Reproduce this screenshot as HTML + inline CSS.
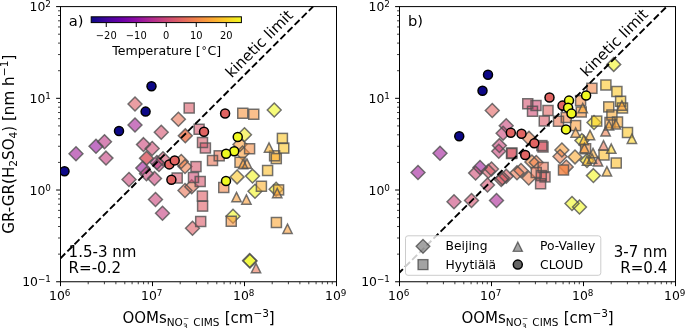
<!DOCTYPE html>
<html lang="en"><head><meta charset="utf-8"><title>GR vs OOMs</title>
<style>html,body{margin:0;padding:0;background:#fff}svg{display:block}</style></head>
<body>
<svg width="685" height="328" viewBox="0 0 685 328" font-family='"DejaVu Sans", "Liberation Sans", sans-serif' fill="#000">
<rect width="685" height="328" fill="#fff"/>
<defs>
<clipPath id="clipa"><rect x="60.5" y="6.6" width="276.0" height="275.15"/></clipPath>
<clipPath id="clipb"><rect x="399.5" y="6.6" width="276.0" height="275.15"/></clipPath>
<linearGradient id="plasma" x1="0" x2="1" y1="0" y2="0"><stop offset="0%" stop-color="#0d0887"/><stop offset="5%" stop-color="#270692"/><stop offset="10%" stop-color="#41049d"/><stop offset="15%" stop-color="#5602a2"/><stop offset="20%" stop-color="#6a00a8"/><stop offset="25%" stop-color="#7c06a6"/><stop offset="30%" stop-color="#8f0da4"/><stop offset="35%" stop-color="#a01c9a"/><stop offset="40%" stop-color="#b12a90"/><stop offset="45%" stop-color="#be3884"/><stop offset="50%" stop-color="#cc4778"/><stop offset="55%" stop-color="#d6566d"/><stop offset="60%" stop-color="#e16462"/><stop offset="65%" stop-color="#ea7456"/><stop offset="70%" stop-color="#f2844b"/><stop offset="75%" stop-color="#f79540"/><stop offset="80%" stop-color="#fca636"/><stop offset="85%" stop-color="#fcba2e"/><stop offset="90%" stop-color="#fcce25"/><stop offset="95%" stop-color="#f6e423"/><stop offset="100%" stop-color="#f0f921"/></linearGradient>
</defs>
<g clip-path="url(#clipa)">
<polygon points="135.00,97.07 141.93,104.00 135.00,110.93 128.07,104.00" fill="#dd5e66" fill-opacity="0.600"/>
<polygon points="135.00,118.07 141.93,125.00 135.00,131.93 128.07,125.00" fill="#a72196" fill-opacity="0.600"/>
<polygon points="161.25,125.32 168.18,132.25 161.25,139.18 154.32,132.25" fill="#d4536f" fill-opacity="0.600"/>
<polygon points="178.40,112.32 185.33,119.25 178.40,126.18 171.47,119.25" fill="#ea7456" fill-opacity="0.600"/>
<polygon points="185.30,128.87 192.23,135.80 185.30,142.73 178.37,135.80" fill="#ed7a52" fill-opacity="0.840"/>
<polygon points="76.00,146.82 82.93,153.75 76.00,160.68 69.07,153.75" fill="#a01c9a" fill-opacity="0.600"/>
<polygon points="96.00,139.32 102.93,146.25 96.00,153.18 89.07,146.25" fill="#99169e" fill-opacity="0.600"/>
<polygon points="104.50,134.82 111.43,141.75 104.50,148.68 97.57,141.75" fill="#bc3686" fill-opacity="0.600"/>
<polygon points="106.00,151.17 112.93,158.10 106.00,165.03 99.07,158.10" fill="#c43e7f" fill-opacity="0.600"/>
<polygon points="143.50,137.67 150.43,144.60 143.50,151.53 136.57,144.60" fill="#c9447a" fill-opacity="0.600"/>
<polygon points="152.20,141.57 159.13,148.50 152.20,155.43 145.27,148.50" fill="#d04d74" fill-opacity="0.600"/>
<polygon points="146.50,151.27 153.43,158.20 146.50,165.13 139.57,158.20" fill="#dd5e66" fill-opacity="0.840"/>
<polygon points="156.90,155.57 163.83,162.50 156.90,169.43 149.97,162.50" fill="#bc3686" fill-opacity="0.600"/>
<polygon points="159.00,157.57 165.93,164.50 159.00,171.43 152.07,164.50" fill="#c43e7f" fill-opacity="0.600"/>
<polygon points="163.00,151.82 169.93,158.75 163.00,165.68 156.07,158.75" fill="#d4536f" fill-opacity="0.600"/>
<polygon points="142.80,161.17 149.73,168.10 142.80,175.03 135.87,168.10" fill="#a01c9a" fill-opacity="0.600"/>
<polygon points="146.50,166.82 153.43,173.75 146.50,180.68 139.57,173.75" fill="#c9447a" fill-opacity="0.600"/>
<polygon points="154.50,171.57 161.43,178.50 154.50,185.43 147.57,178.50" fill="#c9447a" fill-opacity="0.600"/>
<polygon points="129.00,172.57 135.93,179.50 129.00,186.43 122.07,179.50" fill="#cc4778" fill-opacity="0.600"/>
<polygon points="155.50,192.57 162.43,199.50 155.50,206.43 148.57,199.50" fill="#c9447a" fill-opacity="0.600"/>
<polygon points="162.50,206.32 169.43,213.25 162.50,220.18 155.57,213.25" fill="#c43e7f" fill-opacity="0.600"/>
<polygon points="181.25,154.57 188.18,161.50 181.25,168.43 174.32,161.50" fill="#f38749" fill-opacity="0.600"/>
<polygon points="185.00,159.67 191.93,166.60 185.00,173.53 178.07,166.60" fill="#f0814d" fill-opacity="0.600"/>
<polygon points="185.00,183.57 191.93,190.50 185.00,197.43 178.07,190.50" fill="#ea7456" fill-opacity="0.600"/>
<polygon points="191.70,179.77 198.63,186.70 191.70,193.63 184.77,186.70" fill="#ea7456" fill-opacity="0.600"/>
<polygon points="192.50,221.32 199.43,228.25 192.50,235.18 185.57,228.25" fill="#dd5e66" fill-opacity="0.600"/>
<polygon points="274.25,103.07 281.18,110.00 274.25,116.93 267.32,110.00" fill="#f0f921" fill-opacity="0.600"/>
<polygon points="244.50,127.77 251.43,134.70 244.50,141.63 237.57,134.70" fill="#f4ec22" fill-opacity="0.600"/>
<polygon points="240.00,137.47 246.93,144.40 240.00,151.33 233.07,144.40" fill="#fa9f3a" fill-opacity="0.600"/>
<polygon points="242.50,146.07 249.43,153.00 242.50,159.93 235.57,153.00" fill="#fa9f3a" fill-opacity="0.600"/>
<polygon points="237.10,169.97 244.03,176.90 237.10,183.83 230.17,176.90" fill="#fcc628" fill-opacity="0.600"/>
<polygon points="252.50,169.17 259.43,176.10 252.50,183.03 245.57,176.10" fill="#f1f521" fill-opacity="0.600"/>
<polygon points="255.00,184.32 261.93,191.25 255.00,198.18 248.07,191.25" fill="#f1f521" fill-opacity="0.600"/>
<polygon points="276.10,182.27 283.03,189.20 276.10,196.13 269.17,189.20" fill="#f1f521" fill-opacity="0.600"/>
<polygon points="233.00,209.32 239.93,216.25 233.00,223.18 226.07,216.25" fill="#f0f921" fill-opacity="0.600"/>
<polygon points="250.00,254.07 256.93,261.00 250.00,267.93 243.07,261.00" fill="#f0f921" fill-opacity="0.600"/>
<polygon points="249.60,253.67 256.53,260.60 249.60,267.53 242.67,260.60" fill="#f0f921" fill-opacity="0.600"/>
<polygon points="135.00,97.07 141.93,104.00 135.00,110.93 128.07,104.00" fill="none" stroke="#505050" stroke-opacity="0.8" stroke-width="1.5"/>
<polygon points="135.00,118.07 141.93,125.00 135.00,131.93 128.07,125.00" fill="none" stroke="#505050" stroke-opacity="0.8" stroke-width="1.5"/>
<polygon points="161.25,125.32 168.18,132.25 161.25,139.18 154.32,132.25" fill="none" stroke="#505050" stroke-opacity="0.8" stroke-width="1.5"/>
<polygon points="178.40,112.32 185.33,119.25 178.40,126.18 171.47,119.25" fill="none" stroke="#505050" stroke-opacity="0.8" stroke-width="1.5"/>
<polygon points="185.30,128.87 192.23,135.80 185.30,142.73 178.37,135.80" fill="none" stroke="#505050" stroke-opacity="0.8" stroke-width="1.5"/>
<polygon points="76.00,146.82 82.93,153.75 76.00,160.68 69.07,153.75" fill="none" stroke="#505050" stroke-opacity="0.8" stroke-width="1.5"/>
<polygon points="96.00,139.32 102.93,146.25 96.00,153.18 89.07,146.25" fill="none" stroke="#505050" stroke-opacity="0.8" stroke-width="1.5"/>
<polygon points="104.50,134.82 111.43,141.75 104.50,148.68 97.57,141.75" fill="none" stroke="#505050" stroke-opacity="0.8" stroke-width="1.5"/>
<polygon points="106.00,151.17 112.93,158.10 106.00,165.03 99.07,158.10" fill="none" stroke="#505050" stroke-opacity="0.8" stroke-width="1.5"/>
<polygon points="143.50,137.67 150.43,144.60 143.50,151.53 136.57,144.60" fill="none" stroke="#505050" stroke-opacity="0.8" stroke-width="1.5"/>
<polygon points="152.20,141.57 159.13,148.50 152.20,155.43 145.27,148.50" fill="none" stroke="#505050" stroke-opacity="0.8" stroke-width="1.5"/>
<polygon points="146.50,151.27 153.43,158.20 146.50,165.13 139.57,158.20" fill="none" stroke="#505050" stroke-opacity="0.8" stroke-width="1.5"/>
<polygon points="156.90,155.57 163.83,162.50 156.90,169.43 149.97,162.50" fill="none" stroke="#505050" stroke-opacity="0.8" stroke-width="1.5"/>
<polygon points="159.00,157.57 165.93,164.50 159.00,171.43 152.07,164.50" fill="none" stroke="#505050" stroke-opacity="0.8" stroke-width="1.5"/>
<polygon points="163.00,151.82 169.93,158.75 163.00,165.68 156.07,158.75" fill="none" stroke="#505050" stroke-opacity="0.8" stroke-width="1.5"/>
<polygon points="142.80,161.17 149.73,168.10 142.80,175.03 135.87,168.10" fill="none" stroke="#505050" stroke-opacity="0.8" stroke-width="1.5"/>
<polygon points="146.50,166.82 153.43,173.75 146.50,180.68 139.57,173.75" fill="none" stroke="#505050" stroke-opacity="0.8" stroke-width="1.5"/>
<polygon points="154.50,171.57 161.43,178.50 154.50,185.43 147.57,178.50" fill="none" stroke="#505050" stroke-opacity="0.8" stroke-width="1.5"/>
<polygon points="129.00,172.57 135.93,179.50 129.00,186.43 122.07,179.50" fill="none" stroke="#505050" stroke-opacity="0.8" stroke-width="1.5"/>
<polygon points="155.50,192.57 162.43,199.50 155.50,206.43 148.57,199.50" fill="none" stroke="#505050" stroke-opacity="0.8" stroke-width="1.5"/>
<polygon points="162.50,206.32 169.43,213.25 162.50,220.18 155.57,213.25" fill="none" stroke="#505050" stroke-opacity="0.8" stroke-width="1.5"/>
<polygon points="181.25,154.57 188.18,161.50 181.25,168.43 174.32,161.50" fill="none" stroke="#505050" stroke-opacity="0.8" stroke-width="1.5"/>
<polygon points="185.00,159.67 191.93,166.60 185.00,173.53 178.07,166.60" fill="none" stroke="#505050" stroke-opacity="0.8" stroke-width="1.5"/>
<polygon points="185.00,183.57 191.93,190.50 185.00,197.43 178.07,190.50" fill="none" stroke="#505050" stroke-opacity="0.8" stroke-width="1.5"/>
<polygon points="191.70,179.77 198.63,186.70 191.70,193.63 184.77,186.70" fill="none" stroke="#505050" stroke-opacity="0.8" stroke-width="1.5"/>
<polygon points="192.50,221.32 199.43,228.25 192.50,235.18 185.57,228.25" fill="none" stroke="#505050" stroke-opacity="0.8" stroke-width="1.5"/>
<polygon points="274.25,103.07 281.18,110.00 274.25,116.93 267.32,110.00" fill="none" stroke="#505050" stroke-opacity="0.8" stroke-width="1.5"/>
<polygon points="244.50,127.77 251.43,134.70 244.50,141.63 237.57,134.70" fill="none" stroke="#505050" stroke-opacity="0.8" stroke-width="1.5"/>
<polygon points="240.00,137.47 246.93,144.40 240.00,151.33 233.07,144.40" fill="none" stroke="#505050" stroke-opacity="0.8" stroke-width="1.5"/>
<polygon points="242.50,146.07 249.43,153.00 242.50,159.93 235.57,153.00" fill="none" stroke="#505050" stroke-opacity="0.8" stroke-width="1.5"/>
<polygon points="237.10,169.97 244.03,176.90 237.10,183.83 230.17,176.90" fill="none" stroke="#505050" stroke-opacity="0.8" stroke-width="1.5"/>
<polygon points="252.50,169.17 259.43,176.10 252.50,183.03 245.57,176.10" fill="none" stroke="#505050" stroke-opacity="0.8" stroke-width="1.5"/>
<polygon points="255.00,184.32 261.93,191.25 255.00,198.18 248.07,191.25" fill="none" stroke="#505050" stroke-opacity="0.8" stroke-width="1.5"/>
<polygon points="276.10,182.27 283.03,189.20 276.10,196.13 269.17,189.20" fill="none" stroke="#505050" stroke-opacity="0.8" stroke-width="1.5"/>
<polygon points="233.00,209.32 239.93,216.25 233.00,223.18 226.07,216.25" fill="none" stroke="#505050" stroke-opacity="0.8" stroke-width="1.5"/>
<polygon points="250.00,254.07 256.93,261.00 250.00,267.93 243.07,261.00" fill="none" stroke="#505050" stroke-opacity="0.8" stroke-width="1.5"/>
<polygon points="249.60,253.67 256.53,260.60 249.60,267.53 242.67,260.60" fill="none" stroke="#505050" stroke-opacity="0.8" stroke-width="1.5"/>
<rect x="184.20" y="103.00" width="10.0" height="10.0" fill="#db5b69" fill-opacity="0.600"/>
<rect x="194.10" y="124.25" width="10.0" height="10.0" fill="#d6566d" fill-opacity="0.600"/>
<rect x="197.50" y="137.50" width="10.0" height="10.0" fill="#db5b69" fill-opacity="0.600"/>
<rect x="200.40" y="143.00" width="10.0" height="10.0" fill="#d6566d" fill-opacity="0.600"/>
<rect x="172.20" y="173.00" width="10.0" height="10.0" fill="#d6566d" fill-opacity="0.600"/>
<rect x="191.00" y="161.60" width="10.0" height="10.0" fill="#d6566d" fill-opacity="0.600"/>
<rect x="188.50" y="172.50" width="10.0" height="10.0" fill="#d04d74" fill-opacity="0.600"/>
<rect x="195.20" y="176.50" width="10.0" height="10.0" fill="#d6566d" fill-opacity="0.600"/>
<rect x="197.40" y="191.10" width="10.0" height="10.0" fill="#dd5e66" fill-opacity="0.600"/>
<rect x="197.60" y="201.10" width="10.0" height="10.0" fill="#dd5e66" fill-opacity="0.600"/>
<rect x="195.70" y="216.50" width="10.0" height="10.0" fill="#db5b69" fill-opacity="0.600"/>
<rect x="207.50" y="155.50" width="10.0" height="10.0" fill="#ea7456" fill-opacity="0.600"/>
<rect x="214.20" y="150.80" width="10.0" height="10.0" fill="#ea7456" fill-opacity="0.600"/>
<rect x="218.75" y="182.50" width="10.0" height="10.0" fill="#f38749" fill-opacity="0.600"/>
<rect x="237.75" y="108.25" width="10.0" height="10.0" fill="#f79540" fill-opacity="0.600"/>
<rect x="248.75" y="109.25" width="10.0" height="10.0" fill="#f79540" fill-opacity="0.600"/>
<rect x="244.60" y="143.75" width="10.0" height="10.0" fill="#f58e45" fill-opacity="0.600"/>
<rect x="235.00" y="157.30" width="10.0" height="10.0" fill="#fa9f3a" fill-opacity="0.600"/>
<rect x="277.40" y="133.40" width="10.0" height="10.0" fill="#fcc628" fill-opacity="0.600"/>
<rect x="278.75" y="143.10" width="10.0" height="10.0" fill="#fcc628" fill-opacity="0.600"/>
<rect x="269.60" y="150.80" width="10.0" height="10.0" fill="#fcb231" fill-opacity="0.600"/>
<rect x="271.30" y="153.60" width="10.0" height="10.0" fill="#fcb231" fill-opacity="0.600"/>
<rect x="262.60" y="165.50" width="10.0" height="10.0" fill="#fcbe2c" fill-opacity="0.600"/>
<rect x="256.40" y="181.25" width="10.0" height="10.0" fill="#fcb231" fill-opacity="0.600"/>
<rect x="273.60" y="184.90" width="10.0" height="10.0" fill="#fcaa34" fill-opacity="0.600"/>
<rect x="226.25" y="216.25" width="10.0" height="10.0" fill="#f79540" fill-opacity="0.600"/>
<rect x="271.40" y="217.50" width="10.0" height="10.0" fill="#fca636" fill-opacity="0.600"/>
<rect x="184.20" y="103.00" width="10.0" height="10.0" fill="none" stroke="#505050" stroke-opacity="0.8" stroke-width="1.5"/>
<rect x="194.10" y="124.25" width="10.0" height="10.0" fill="none" stroke="#505050" stroke-opacity="0.8" stroke-width="1.5"/>
<rect x="197.50" y="137.50" width="10.0" height="10.0" fill="none" stroke="#505050" stroke-opacity="0.8" stroke-width="1.5"/>
<rect x="200.40" y="143.00" width="10.0" height="10.0" fill="none" stroke="#505050" stroke-opacity="0.8" stroke-width="1.5"/>
<rect x="172.20" y="173.00" width="10.0" height="10.0" fill="none" stroke="#505050" stroke-opacity="0.8" stroke-width="1.5"/>
<rect x="191.00" y="161.60" width="10.0" height="10.0" fill="none" stroke="#505050" stroke-opacity="0.8" stroke-width="1.5"/>
<rect x="188.50" y="172.50" width="10.0" height="10.0" fill="none" stroke="#505050" stroke-opacity="0.8" stroke-width="1.5"/>
<rect x="195.20" y="176.50" width="10.0" height="10.0" fill="none" stroke="#505050" stroke-opacity="0.8" stroke-width="1.5"/>
<rect x="197.40" y="191.10" width="10.0" height="10.0" fill="none" stroke="#505050" stroke-opacity="0.8" stroke-width="1.5"/>
<rect x="197.60" y="201.10" width="10.0" height="10.0" fill="none" stroke="#505050" stroke-opacity="0.8" stroke-width="1.5"/>
<rect x="195.70" y="216.50" width="10.0" height="10.0" fill="none" stroke="#505050" stroke-opacity="0.8" stroke-width="1.5"/>
<rect x="207.50" y="155.50" width="10.0" height="10.0" fill="none" stroke="#505050" stroke-opacity="0.8" stroke-width="1.5"/>
<rect x="214.20" y="150.80" width="10.0" height="10.0" fill="none" stroke="#505050" stroke-opacity="0.8" stroke-width="1.5"/>
<rect x="218.75" y="182.50" width="10.0" height="10.0" fill="none" stroke="#505050" stroke-opacity="0.8" stroke-width="1.5"/>
<rect x="237.75" y="108.25" width="10.0" height="10.0" fill="none" stroke="#505050" stroke-opacity="0.8" stroke-width="1.5"/>
<rect x="248.75" y="109.25" width="10.0" height="10.0" fill="none" stroke="#505050" stroke-opacity="0.8" stroke-width="1.5"/>
<rect x="244.60" y="143.75" width="10.0" height="10.0" fill="none" stroke="#505050" stroke-opacity="0.8" stroke-width="1.5"/>
<rect x="235.00" y="157.30" width="10.0" height="10.0" fill="none" stroke="#505050" stroke-opacity="0.8" stroke-width="1.5"/>
<rect x="277.40" y="133.40" width="10.0" height="10.0" fill="none" stroke="#505050" stroke-opacity="0.8" stroke-width="1.5"/>
<rect x="278.75" y="143.10" width="10.0" height="10.0" fill="none" stroke="#505050" stroke-opacity="0.8" stroke-width="1.5"/>
<rect x="269.60" y="150.80" width="10.0" height="10.0" fill="none" stroke="#505050" stroke-opacity="0.8" stroke-width="1.5"/>
<rect x="271.30" y="153.60" width="10.0" height="10.0" fill="none" stroke="#505050" stroke-opacity="0.8" stroke-width="1.5"/>
<rect x="262.60" y="165.50" width="10.0" height="10.0" fill="none" stroke="#505050" stroke-opacity="0.8" stroke-width="1.5"/>
<rect x="256.40" y="181.25" width="10.0" height="10.0" fill="none" stroke="#505050" stroke-opacity="0.8" stroke-width="1.5"/>
<rect x="273.60" y="184.90" width="10.0" height="10.0" fill="none" stroke="#505050" stroke-opacity="0.8" stroke-width="1.5"/>
<rect x="226.25" y="216.25" width="10.0" height="10.0" fill="none" stroke="#505050" stroke-opacity="0.8" stroke-width="1.5"/>
<rect x="271.40" y="217.50" width="10.0" height="10.0" fill="none" stroke="#505050" stroke-opacity="0.8" stroke-width="1.5"/>
<polygon points="269.00,142.85 273.65,152.15 264.35,152.15" fill="#fcb231" fill-opacity="0.600"/>
<polygon points="243.10,159.35 247.75,168.65 238.45,168.65" fill="#fa9f3a" fill-opacity="0.600"/>
<polygon points="246.90,158.85 251.55,168.15 242.25,168.15" fill="#fa9f3a" fill-opacity="0.600"/>
<polygon points="277.20,188.35 281.85,197.65 272.55,197.65" fill="#fa9f3a" fill-opacity="0.600"/>
<polygon points="236.50,192.35 241.15,201.65 231.85,201.65" fill="#fa9f3a" fill-opacity="0.600"/>
<polygon points="246.40,194.95 251.05,204.25 241.75,204.25" fill="#fa9f3a" fill-opacity="0.600"/>
<polygon points="287.50,224.10 292.15,233.40 282.85,233.40" fill="#fa9f3a" fill-opacity="0.600"/>
<polygon points="256.00,263.35 260.65,272.65 251.35,272.65" fill="#ea7456" fill-opacity="0.600"/>
<polygon points="269.00,142.85 273.65,152.15 264.35,152.15" fill="none" stroke="#505050" stroke-opacity="0.8" stroke-width="1.5"/>
<polygon points="243.10,159.35 247.75,168.65 238.45,168.65" fill="none" stroke="#505050" stroke-opacity="0.8" stroke-width="1.5"/>
<polygon points="246.90,158.85 251.55,168.15 242.25,168.15" fill="none" stroke="#505050" stroke-opacity="0.8" stroke-width="1.5"/>
<polygon points="277.20,188.35 281.85,197.65 272.55,197.65" fill="none" stroke="#505050" stroke-opacity="0.8" stroke-width="1.5"/>
<polygon points="236.50,192.35 241.15,201.65 231.85,201.65" fill="none" stroke="#505050" stroke-opacity="0.8" stroke-width="1.5"/>
<polygon points="246.40,194.95 251.05,204.25 241.75,204.25" fill="none" stroke="#505050" stroke-opacity="0.8" stroke-width="1.5"/>
<polygon points="287.50,224.10 292.15,233.40 282.85,233.40" fill="none" stroke="#505050" stroke-opacity="0.8" stroke-width="1.5"/>
<polygon points="256.00,263.35 260.65,272.65 251.35,272.65" fill="none" stroke="#505050" stroke-opacity="0.8" stroke-width="1.5"/>
<line x1="60.50" y1="258.26" x2="313.04" y2="6.60" stroke="#000" stroke-width="1.9" stroke-dasharray="7.0 3.025" stroke-dashoffset="0.3"/>
<circle cx="151.50" cy="86.20" r="4.5" fill="#0d0887" stroke="#000" stroke-width="1.5"/>
<circle cx="145.60" cy="111.60" r="4.5" fill="#0d0887" stroke="#000" stroke-width="1.5"/>
<circle cx="119.00" cy="131.00" r="4.5" fill="#0d0887" stroke="#000" stroke-width="1.5"/>
<circle cx="64.50" cy="171.25" r="4.5" fill="#0d0887" stroke="#000" stroke-width="1.5"/>
<circle cx="204.00" cy="131.75" r="4.5" fill="#e16462" stroke="#000" stroke-width="1.5"/>
<circle cx="225.10" cy="113.50" r="4.5" fill="#e16462" stroke="#000" stroke-width="1.5"/>
<circle cx="169.30" cy="164.40" r="4.5" fill="#e16462" stroke="#000" stroke-width="1.5"/>
<circle cx="174.70" cy="160.40" r="4.5" fill="#e16462" stroke="#000" stroke-width="1.5"/>
<circle cx="171.40" cy="179.80" r="4.5" fill="#e16462" stroke="#000" stroke-width="1.5"/>
<circle cx="237.75" cy="137.00" r="4.5" fill="#f0f921" stroke="#000" stroke-width="1.5"/>
<circle cx="234.20" cy="151.25" r="4.5" fill="#f0f921" stroke="#000" stroke-width="1.5"/>
<circle cx="226.10" cy="153.75" r="4.5" fill="#f0f921" stroke="#000" stroke-width="1.5"/>
<circle cx="226.00" cy="181.00" r="4.5" fill="#f0f921" stroke="#000" stroke-width="1.5"/>
</g>
<path d="M60.50 281.75v4.4M60.5 281.75h-4.4M152.50 281.75v4.4M60.5 190.03h-4.4M244.50 281.75v4.4M60.5 98.32h-4.4M336.50 281.75v4.4M60.5 6.60h-4.4" stroke="#000" stroke-width="1" fill="none"/>
<path d="M88.19 281.75v2.5M60.5 254.14h-2.5M104.40 281.75v2.5M60.5 237.99h-2.5M115.89 281.75v2.5M60.5 226.53h-2.5M124.81 281.75v2.5M60.5 217.64h-2.5M132.09 281.75v2.5M60.5 210.38h-2.5M138.25 281.75v2.5M60.5 204.24h-2.5M143.58 281.75v2.5M60.5 198.92h-2.5M148.29 281.75v2.5M60.5 194.23h-2.5M180.19 281.75v2.5M60.5 162.42h-2.5M196.40 281.75v2.5M60.5 146.27h-2.5M207.89 281.75v2.5M60.5 134.81h-2.5M216.81 281.75v2.5M60.5 125.93h-2.5M224.09 281.75v2.5M60.5 118.66h-2.5M230.25 281.75v2.5M60.5 112.52h-2.5M235.58 281.75v2.5M60.5 107.20h-2.5M240.29 281.75v2.5M60.5 102.51h-2.5M272.19 281.75v2.5M60.5 70.71h-2.5M288.40 281.75v2.5M60.5 54.56h-2.5M299.89 281.75v2.5M60.5 43.10h-2.5M308.81 281.75v2.5M60.5 34.21h-2.5M316.09 281.75v2.5M60.5 26.95h-2.5M322.25 281.75v2.5M60.5 20.81h-2.5M327.58 281.75v2.5M60.5 15.49h-2.5M332.29 281.75v2.5M60.5 10.80h-2.5" stroke="#000" stroke-width="0.75" fill="none"/>
<rect x="60.5" y="6.6" width="276.0" height="275.15" fill="none" stroke="#000" stroke-width="1"/>
<text x="59.70" y="300.35" font-size="12.4" text-anchor="middle">10<tspan font-size="8.8" dy="-4.1">6</tspan></text>
<text x="151.70" y="300.35" font-size="12.4" text-anchor="middle">10<tspan font-size="8.8" dy="-4.1">7</tspan></text>
<text x="243.70" y="300.35" font-size="12.4" text-anchor="middle">10<tspan font-size="8.8" dy="-4.1">8</tspan></text>
<text x="335.70" y="300.35" font-size="12.4" text-anchor="middle">10<tspan font-size="8.8" dy="-4.1">9</tspan></text>
<text x="50.90" y="286.45" font-size="12.4" text-anchor="end">10<tspan font-size="8.8" dy="-4.1">−1</tspan></text>
<text x="50.90" y="194.73" font-size="12.4" text-anchor="end">10<tspan font-size="8.8" dy="-4.1">0</tspan></text>
<text x="50.90" y="103.02" font-size="12.4" text-anchor="end">10<tspan font-size="8.8" dy="-4.1">1</tspan></text>
<text x="50.90" y="11.30" font-size="12.4" text-anchor="end">10<tspan font-size="8.8" dy="-4.1">2</tspan></text>
<text x="122.40" y="322.5" font-size="15.0">OOMs<tspan font-size="10.5" dy="3.2">NO</tspan><tspan font-size="7.4" dy="3.0">3</tspan><tspan font-size="7.4" dy="-8.0" dx="-4.7">−</tspan><tspan font-size="10.5" dy="5.0" dx="4.2">CIMS</tspan><tspan dy="-3.2" dx="5.2">[cm</tspan><tspan font-size="10.5" dy="-5.6">−3</tspan><tspan dy="5.6">]</tspan></text>
<g clip-path="url(#clipb)">
<polygon points="492.25,103.57 499.18,110.50 492.25,117.43 485.32,110.50" fill="#e16462" fill-opacity="0.600"/>
<polygon points="506.20,118.77 513.13,125.70 506.20,132.63 499.27,125.70" fill="#c9447a" fill-opacity="0.600"/>
<polygon points="503.10,126.27 510.03,133.20 503.10,140.13 496.17,133.20" fill="#c9447a" fill-opacity="0.600"/>
<polygon points="499.40,138.67 506.33,145.60 499.40,152.53 492.47,145.60" fill="#c9447a" fill-opacity="0.600"/>
<polygon points="498.75,144.32 505.68,151.25 498.75,158.18 491.82,151.25" fill="#c9447a" fill-opacity="0.600"/>
<polygon points="440.00,146.32 446.93,153.25 440.00,160.18 433.07,153.25" fill="#a01c9a" fill-opacity="0.600"/>
<polygon points="418.00,165.57 424.93,172.50 418.00,179.43 411.07,172.50" fill="#a01c9a" fill-opacity="0.600"/>
<polygon points="480.00,160.57 486.93,167.50 480.00,174.43 473.07,167.50" fill="#a01c9a" fill-opacity="0.600"/>
<polygon points="475.60,166.17 482.53,173.10 475.60,180.03 468.67,173.10" fill="#d04d74" fill-opacity="0.600"/>
<polygon points="488.30,164.37 495.23,171.30 488.30,178.23 481.37,171.30" fill="#db5b69" fill-opacity="0.600"/>
<polygon points="491.50,162.07 498.43,169.00 491.50,175.93 484.57,169.00" fill="#db5b69" fill-opacity="0.600"/>
<polygon points="487.50,178.07 494.43,185.00 487.50,191.93 480.57,185.00" fill="#d4536f" fill-opacity="0.600"/>
<polygon points="501.25,172.47 508.18,179.40 501.25,186.33 494.32,179.40" fill="#db5b69" fill-opacity="0.600"/>
<polygon points="502.50,171.17 509.43,178.10 502.50,185.03 495.57,178.10" fill="#dd5e66" fill-opacity="0.600"/>
<polygon points="506.25,169.32 513.18,176.25 506.25,183.18 499.32,176.25" fill="#dd5e66" fill-opacity="0.600"/>
<polygon points="521.00,163.57 527.93,170.50 521.00,177.43 514.07,170.50" fill="#ed7a52" fill-opacity="0.600"/>
<polygon points="517.00,165.87 523.93,172.80 517.00,179.73 510.07,172.80" fill="#ed7a52" fill-opacity="0.600"/>
<polygon points="528.75,171.17 535.68,178.10 528.75,185.03 521.82,178.10" fill="#f0814d" fill-opacity="0.600"/>
<polygon points="529.00,131.37 535.93,138.30 529.00,145.23 522.07,138.30" fill="#f0814d" fill-opacity="0.600"/>
<polygon points="531.90,154.97 538.83,161.90 531.90,168.83 524.97,161.90" fill="#f58e45" fill-opacity="0.600"/>
<polygon points="536.25,155.57 543.18,162.50 536.25,169.43 529.32,162.50" fill="#f0814d" fill-opacity="0.600"/>
<polygon points="454.00,194.82 460.93,201.75 454.00,208.68 447.07,201.75" fill="#c9447a" fill-opacity="0.600"/>
<polygon points="471.50,193.57 478.43,200.50 471.50,207.43 464.57,200.50" fill="#d4536f" fill-opacity="0.600"/>
<polygon points="496.50,193.57 503.43,200.50 496.50,207.43 489.57,200.50" fill="#aa2494" fill-opacity="0.600"/>
<polygon points="561.90,143.07 568.83,150.00 561.90,156.93 554.97,150.00" fill="#fa9f3a" fill-opacity="0.600"/>
<polygon points="560.00,149.57 566.93,156.50 560.00,163.43 553.07,156.50" fill="#f0814d" fill-opacity="0.600"/>
<polygon points="575.00,149.97 581.93,156.90 575.00,163.83 568.07,156.90" fill="#fcaa34" fill-opacity="0.600"/>
<polygon points="566.25,159.97 573.18,166.90 566.25,173.83 559.32,166.90" fill="#f0814d" fill-opacity="0.600"/>
<polygon points="594.00,115.57 600.93,122.50 594.00,129.43 587.07,122.50" fill="#f4ec22" fill-opacity="0.600"/>
<polygon points="613.75,57.47 620.68,64.40 613.75,71.33 606.82,64.40" fill="#f1f521" fill-opacity="0.600"/>
<polygon points="581.90,133.67 588.83,140.60 581.90,147.53 574.97,140.60" fill="#f5e823" fill-opacity="0.600"/>
<polygon points="587.00,153.67 593.93,160.60 587.00,167.53 580.07,160.60" fill="#f5e823" fill-opacity="0.600"/>
<polygon points="593.40,168.67 600.33,175.60 593.40,182.53 586.47,175.60" fill="#f1f521" fill-opacity="0.600"/>
<polygon points="572.00,196.57 578.93,203.50 572.00,210.43 565.07,203.50" fill="#f0f921" fill-opacity="0.600"/>
<polygon points="579.50,200.07 586.43,207.00 579.50,213.93 572.57,207.00" fill="#f0f921" fill-opacity="0.600"/>
<polygon points="492.25,103.57 499.18,110.50 492.25,117.43 485.32,110.50" fill="none" stroke="#505050" stroke-opacity="0.8" stroke-width="1.5"/>
<polygon points="506.20,118.77 513.13,125.70 506.20,132.63 499.27,125.70" fill="none" stroke="#505050" stroke-opacity="0.8" stroke-width="1.5"/>
<polygon points="503.10,126.27 510.03,133.20 503.10,140.13 496.17,133.20" fill="none" stroke="#505050" stroke-opacity="0.8" stroke-width="1.5"/>
<polygon points="499.40,138.67 506.33,145.60 499.40,152.53 492.47,145.60" fill="none" stroke="#505050" stroke-opacity="0.8" stroke-width="1.5"/>
<polygon points="498.75,144.32 505.68,151.25 498.75,158.18 491.82,151.25" fill="none" stroke="#505050" stroke-opacity="0.8" stroke-width="1.5"/>
<polygon points="440.00,146.32 446.93,153.25 440.00,160.18 433.07,153.25" fill="none" stroke="#505050" stroke-opacity="0.8" stroke-width="1.5"/>
<polygon points="418.00,165.57 424.93,172.50 418.00,179.43 411.07,172.50" fill="none" stroke="#505050" stroke-opacity="0.8" stroke-width="1.5"/>
<polygon points="480.00,160.57 486.93,167.50 480.00,174.43 473.07,167.50" fill="none" stroke="#505050" stroke-opacity="0.8" stroke-width="1.5"/>
<polygon points="475.60,166.17 482.53,173.10 475.60,180.03 468.67,173.10" fill="none" stroke="#505050" stroke-opacity="0.8" stroke-width="1.5"/>
<polygon points="488.30,164.37 495.23,171.30 488.30,178.23 481.37,171.30" fill="none" stroke="#505050" stroke-opacity="0.8" stroke-width="1.5"/>
<polygon points="491.50,162.07 498.43,169.00 491.50,175.93 484.57,169.00" fill="none" stroke="#505050" stroke-opacity="0.8" stroke-width="1.5"/>
<polygon points="487.50,178.07 494.43,185.00 487.50,191.93 480.57,185.00" fill="none" stroke="#505050" stroke-opacity="0.8" stroke-width="1.5"/>
<polygon points="501.25,172.47 508.18,179.40 501.25,186.33 494.32,179.40" fill="none" stroke="#505050" stroke-opacity="0.8" stroke-width="1.5"/>
<polygon points="502.50,171.17 509.43,178.10 502.50,185.03 495.57,178.10" fill="none" stroke="#505050" stroke-opacity="0.8" stroke-width="1.5"/>
<polygon points="506.25,169.32 513.18,176.25 506.25,183.18 499.32,176.25" fill="none" stroke="#505050" stroke-opacity="0.8" stroke-width="1.5"/>
<polygon points="521.00,163.57 527.93,170.50 521.00,177.43 514.07,170.50" fill="none" stroke="#505050" stroke-opacity="0.8" stroke-width="1.5"/>
<polygon points="517.00,165.87 523.93,172.80 517.00,179.73 510.07,172.80" fill="none" stroke="#505050" stroke-opacity="0.8" stroke-width="1.5"/>
<polygon points="528.75,171.17 535.68,178.10 528.75,185.03 521.82,178.10" fill="none" stroke="#505050" stroke-opacity="0.8" stroke-width="1.5"/>
<polygon points="529.00,131.37 535.93,138.30 529.00,145.23 522.07,138.30" fill="none" stroke="#505050" stroke-opacity="0.8" stroke-width="1.5"/>
<polygon points="531.90,154.97 538.83,161.90 531.90,168.83 524.97,161.90" fill="none" stroke="#505050" stroke-opacity="0.8" stroke-width="1.5"/>
<polygon points="536.25,155.57 543.18,162.50 536.25,169.43 529.32,162.50" fill="none" stroke="#505050" stroke-opacity="0.8" stroke-width="1.5"/>
<polygon points="454.00,194.82 460.93,201.75 454.00,208.68 447.07,201.75" fill="none" stroke="#505050" stroke-opacity="0.8" stroke-width="1.5"/>
<polygon points="471.50,193.57 478.43,200.50 471.50,207.43 464.57,200.50" fill="none" stroke="#505050" stroke-opacity="0.8" stroke-width="1.5"/>
<polygon points="496.50,193.57 503.43,200.50 496.50,207.43 489.57,200.50" fill="none" stroke="#505050" stroke-opacity="0.8" stroke-width="1.5"/>
<polygon points="561.90,143.07 568.83,150.00 561.90,156.93 554.97,150.00" fill="none" stroke="#505050" stroke-opacity="0.8" stroke-width="1.5"/>
<polygon points="560.00,149.57 566.93,156.50 560.00,163.43 553.07,156.50" fill="none" stroke="#505050" stroke-opacity="0.8" stroke-width="1.5"/>
<polygon points="575.00,149.97 581.93,156.90 575.00,163.83 568.07,156.90" fill="none" stroke="#505050" stroke-opacity="0.8" stroke-width="1.5"/>
<polygon points="566.25,159.97 573.18,166.90 566.25,173.83 559.32,166.90" fill="none" stroke="#505050" stroke-opacity="0.8" stroke-width="1.5"/>
<polygon points="594.00,115.57 600.93,122.50 594.00,129.43 587.07,122.50" fill="none" stroke="#505050" stroke-opacity="0.8" stroke-width="1.5"/>
<polygon points="613.75,57.47 620.68,64.40 613.75,71.33 606.82,64.40" fill="none" stroke="#505050" stroke-opacity="0.8" stroke-width="1.5"/>
<polygon points="581.90,133.67 588.83,140.60 581.90,147.53 574.97,140.60" fill="none" stroke="#505050" stroke-opacity="0.8" stroke-width="1.5"/>
<polygon points="587.00,153.67 593.93,160.60 587.00,167.53 580.07,160.60" fill="none" stroke="#505050" stroke-opacity="0.8" stroke-width="1.5"/>
<polygon points="593.40,168.67 600.33,175.60 593.40,182.53 586.47,175.60" fill="none" stroke="#505050" stroke-opacity="0.8" stroke-width="1.5"/>
<polygon points="572.00,196.57 578.93,203.50 572.00,210.43 565.07,203.50" fill="none" stroke="#505050" stroke-opacity="0.8" stroke-width="1.5"/>
<polygon points="579.50,200.07 586.43,207.00 579.50,213.93 572.57,207.00" fill="none" stroke="#505050" stroke-opacity="0.8" stroke-width="1.5"/>
<rect x="522.75" y="98.75" width="10.0" height="10.0" fill="#d4536f" fill-opacity="0.600"/>
<rect x="531.00" y="100.50" width="10.0" height="10.0" fill="#d04d74" fill-opacity="0.600"/>
<rect x="527.50" y="106.25" width="10.0" height="10.0" fill="#d04d74" fill-opacity="0.600"/>
<rect x="543.00" y="105.50" width="10.0" height="10.0" fill="#e16462" fill-opacity="0.600"/>
<rect x="539.25" y="116.00" width="10.0" height="10.0" fill="#db5b69" fill-opacity="0.600"/>
<rect x="553.50" y="116.25" width="10.0" height="10.0" fill="#eb7754" fill-opacity="0.600"/>
<rect x="561.25" y="112.50" width="10.0" height="10.0" fill="#f38749" fill-opacity="0.600"/>
<rect x="536.90" y="140.60" width="10.0" height="10.0" fill="#db5b69" fill-opacity="0.600"/>
<rect x="538.00" y="142.00" width="10.0" height="10.0" fill="#db5b69" fill-opacity="0.600"/>
<rect x="506.50" y="148.50" width="10.0" height="10.0" fill="#db5b69" fill-opacity="0.600"/>
<rect x="506.90" y="148.00" width="10.0" height="10.0" fill="#db5b69" fill-opacity="0.600"/>
<rect x="538.10" y="162.50" width="10.0" height="10.0" fill="#ea7456" fill-opacity="0.600"/>
<rect x="531.25" y="167.50" width="10.0" height="10.0" fill="#ea7456" fill-opacity="0.600"/>
<rect x="536.25" y="170.60" width="10.0" height="10.0" fill="#e16462" fill-opacity="0.600"/>
<rect x="540.00" y="171.90" width="10.0" height="10.0" fill="#e16462" fill-opacity="0.600"/>
<rect x="535.60" y="178.75" width="10.0" height="10.0" fill="#dd5e66" fill-opacity="0.600"/>
<rect x="558.50" y="165.00" width="10.0" height="10.0" fill="#f38749" fill-opacity="0.840"/>
<rect x="586.90" y="83.30" width="10.0" height="10.0" fill="#f38749" fill-opacity="0.600"/>
<rect x="575.60" y="95.60" width="10.0" height="10.0" fill="#f58e45" fill-opacity="0.600"/>
<rect x="576.25" y="107.00" width="10.0" height="10.0" fill="#f79540" fill-opacity="0.600"/>
<rect x="570.60" y="120.60" width="10.0" height="10.0" fill="#fa9f3a" fill-opacity="0.600"/>
<rect x="600.90" y="80.00" width="10.0" height="10.0" fill="#fcc628" fill-opacity="0.600"/>
<rect x="611.90" y="86.50" width="10.0" height="10.0" fill="#fcc628" fill-opacity="0.600"/>
<rect x="603.75" y="101.90" width="10.0" height="10.0" fill="#fcb231" fill-opacity="0.600"/>
<rect x="615.60" y="96.25" width="10.0" height="10.0" fill="#fcc628" fill-opacity="0.600"/>
<rect x="617.50" y="103.00" width="10.0" height="10.0" fill="#fcba2e" fill-opacity="0.600"/>
<rect x="591.70" y="116.10" width="10.0" height="10.0" fill="#fcce25" fill-opacity="0.600"/>
<rect x="606.90" y="110.00" width="10.0" height="10.0" fill="#fcaa34" fill-opacity="0.600"/>
<rect x="605.00" y="117.50" width="10.0" height="10.0" fill="#fa9f3a" fill-opacity="0.600"/>
<rect x="612.50" y="117.00" width="10.0" height="10.0" fill="#fcaa34" fill-opacity="0.600"/>
<rect x="622.50" y="127.50" width="10.0" height="10.0" fill="#fcc628" fill-opacity="0.600"/>
<rect x="580.60" y="143.75" width="10.0" height="10.0" fill="#f79540" fill-opacity="0.600"/>
<rect x="599.00" y="150.00" width="10.0" height="10.0" fill="#fcbe2c" fill-opacity="0.600"/>
<rect x="611.25" y="158.00" width="10.0" height="10.0" fill="#fcbe2c" fill-opacity="0.600"/>
<rect x="522.75" y="98.75" width="10.0" height="10.0" fill="none" stroke="#505050" stroke-opacity="0.8" stroke-width="1.5"/>
<rect x="531.00" y="100.50" width="10.0" height="10.0" fill="none" stroke="#505050" stroke-opacity="0.8" stroke-width="1.5"/>
<rect x="527.50" y="106.25" width="10.0" height="10.0" fill="none" stroke="#505050" stroke-opacity="0.8" stroke-width="1.5"/>
<rect x="543.00" y="105.50" width="10.0" height="10.0" fill="none" stroke="#505050" stroke-opacity="0.8" stroke-width="1.5"/>
<rect x="539.25" y="116.00" width="10.0" height="10.0" fill="none" stroke="#505050" stroke-opacity="0.8" stroke-width="1.5"/>
<rect x="553.50" y="116.25" width="10.0" height="10.0" fill="none" stroke="#505050" stroke-opacity="0.8" stroke-width="1.5"/>
<rect x="561.25" y="112.50" width="10.0" height="10.0" fill="none" stroke="#505050" stroke-opacity="0.8" stroke-width="1.5"/>
<rect x="536.90" y="140.60" width="10.0" height="10.0" fill="none" stroke="#505050" stroke-opacity="0.8" stroke-width="1.5"/>
<rect x="538.00" y="142.00" width="10.0" height="10.0" fill="none" stroke="#505050" stroke-opacity="0.8" stroke-width="1.5"/>
<rect x="506.50" y="148.50" width="10.0" height="10.0" fill="none" stroke="#505050" stroke-opacity="0.8" stroke-width="1.5"/>
<rect x="506.90" y="148.00" width="10.0" height="10.0" fill="none" stroke="#505050" stroke-opacity="0.8" stroke-width="1.5"/>
<rect x="538.10" y="162.50" width="10.0" height="10.0" fill="none" stroke="#505050" stroke-opacity="0.8" stroke-width="1.5"/>
<rect x="531.25" y="167.50" width="10.0" height="10.0" fill="none" stroke="#505050" stroke-opacity="0.8" stroke-width="1.5"/>
<rect x="536.25" y="170.60" width="10.0" height="10.0" fill="none" stroke="#505050" stroke-opacity="0.8" stroke-width="1.5"/>
<rect x="540.00" y="171.90" width="10.0" height="10.0" fill="none" stroke="#505050" stroke-opacity="0.8" stroke-width="1.5"/>
<rect x="535.60" y="178.75" width="10.0" height="10.0" fill="none" stroke="#505050" stroke-opacity="0.8" stroke-width="1.5"/>
<rect x="558.50" y="165.00" width="10.0" height="10.0" fill="none" stroke="#505050" stroke-opacity="0.8" stroke-width="1.5"/>
<rect x="586.90" y="83.30" width="10.0" height="10.0" fill="none" stroke="#505050" stroke-opacity="0.8" stroke-width="1.5"/>
<rect x="575.60" y="95.60" width="10.0" height="10.0" fill="none" stroke="#505050" stroke-opacity="0.8" stroke-width="1.5"/>
<rect x="576.25" y="107.00" width="10.0" height="10.0" fill="none" stroke="#505050" stroke-opacity="0.8" stroke-width="1.5"/>
<rect x="570.60" y="120.60" width="10.0" height="10.0" fill="none" stroke="#505050" stroke-opacity="0.8" stroke-width="1.5"/>
<rect x="600.90" y="80.00" width="10.0" height="10.0" fill="none" stroke="#505050" stroke-opacity="0.8" stroke-width="1.5"/>
<rect x="611.90" y="86.50" width="10.0" height="10.0" fill="none" stroke="#505050" stroke-opacity="0.8" stroke-width="1.5"/>
<rect x="603.75" y="101.90" width="10.0" height="10.0" fill="none" stroke="#505050" stroke-opacity="0.8" stroke-width="1.5"/>
<rect x="615.60" y="96.25" width="10.0" height="10.0" fill="none" stroke="#505050" stroke-opacity="0.8" stroke-width="1.5"/>
<rect x="617.50" y="103.00" width="10.0" height="10.0" fill="none" stroke="#505050" stroke-opacity="0.8" stroke-width="1.5"/>
<rect x="591.70" y="116.10" width="10.0" height="10.0" fill="none" stroke="#505050" stroke-opacity="0.8" stroke-width="1.5"/>
<rect x="606.90" y="110.00" width="10.0" height="10.0" fill="none" stroke="#505050" stroke-opacity="0.8" stroke-width="1.5"/>
<rect x="605.00" y="117.50" width="10.0" height="10.0" fill="none" stroke="#505050" stroke-opacity="0.8" stroke-width="1.5"/>
<rect x="612.50" y="117.00" width="10.0" height="10.0" fill="none" stroke="#505050" stroke-opacity="0.8" stroke-width="1.5"/>
<rect x="622.50" y="127.50" width="10.0" height="10.0" fill="none" stroke="#505050" stroke-opacity="0.8" stroke-width="1.5"/>
<rect x="580.60" y="143.75" width="10.0" height="10.0" fill="none" stroke="#505050" stroke-opacity="0.8" stroke-width="1.5"/>
<rect x="599.00" y="150.00" width="10.0" height="10.0" fill="none" stroke="#505050" stroke-opacity="0.8" stroke-width="1.5"/>
<rect x="611.25" y="158.00" width="10.0" height="10.0" fill="none" stroke="#505050" stroke-opacity="0.8" stroke-width="1.5"/>
<polygon points="582.75,103.35 587.40,112.65 578.10,112.65" fill="#fcaa34" fill-opacity="0.600"/>
<polygon points="621.90,100.95 626.55,110.25 617.25,110.25" fill="#fa9f3a" fill-opacity="0.600"/>
<polygon points="609.00,120.75 613.65,130.05 604.35,130.05" fill="#fcaa34" fill-opacity="0.600"/>
<polygon points="615.90,119.65 620.55,128.95 611.25,128.95" fill="#fba338" fill-opacity="0.600"/>
<polygon points="605.60,126.60 610.25,135.90 600.95,135.90" fill="#ef7e50" fill-opacity="0.600"/>
<polygon points="575.60,127.85 580.25,137.15 570.95,137.15" fill="#fa9f3a" fill-opacity="0.600"/>
<polygon points="590.00,130.35 594.65,139.65 585.35,139.65" fill="#fcb231" fill-opacity="0.600"/>
<polygon points="583.75,135.35 588.40,144.65 579.10,144.65" fill="#fcb231" fill-opacity="0.600"/>
<polygon points="631.90,134.10 636.55,143.40 627.25,143.40" fill="#fbd225" fill-opacity="0.600"/>
<polygon points="584.40,143.35 589.05,152.65 579.75,152.65" fill="#fa9f3a" fill-opacity="0.600"/>
<polygon points="603.50,140.65 608.15,149.95 598.85,149.95" fill="#ea7456" fill-opacity="0.600"/>
<polygon points="611.25,144.05 615.90,153.35 606.60,153.35" fill="#fbd225" fill-opacity="0.600"/>
<polygon points="593.00,148.35 597.65,157.65 588.35,157.65" fill="#fcaa34" fill-opacity="0.600"/>
<polygon points="587.00,155.95 591.65,165.25 582.35,165.25" fill="#fcb231" fill-opacity="0.600"/>
<polygon points="592.00,153.85 596.65,163.15 587.35,163.15" fill="#fcb231" fill-opacity="0.600"/>
<polygon points="598.00,156.60 602.65,165.90 593.35,165.90" fill="#eb7754" fill-opacity="0.600"/>
<polygon points="606.90,166.60 611.55,175.90 602.25,175.90" fill="#fcb231" fill-opacity="0.600"/>
<polygon points="582.75,103.35 587.40,112.65 578.10,112.65" fill="none" stroke="#505050" stroke-opacity="0.8" stroke-width="1.5"/>
<polygon points="621.90,100.95 626.55,110.25 617.25,110.25" fill="none" stroke="#505050" stroke-opacity="0.8" stroke-width="1.5"/>
<polygon points="609.00,120.75 613.65,130.05 604.35,130.05" fill="none" stroke="#505050" stroke-opacity="0.8" stroke-width="1.5"/>
<polygon points="615.90,119.65 620.55,128.95 611.25,128.95" fill="none" stroke="#505050" stroke-opacity="0.8" stroke-width="1.5"/>
<polygon points="605.60,126.60 610.25,135.90 600.95,135.90" fill="none" stroke="#505050" stroke-opacity="0.8" stroke-width="1.5"/>
<polygon points="575.60,127.85 580.25,137.15 570.95,137.15" fill="none" stroke="#505050" stroke-opacity="0.8" stroke-width="1.5"/>
<polygon points="590.00,130.35 594.65,139.65 585.35,139.65" fill="none" stroke="#505050" stroke-opacity="0.8" stroke-width="1.5"/>
<polygon points="583.75,135.35 588.40,144.65 579.10,144.65" fill="none" stroke="#505050" stroke-opacity="0.8" stroke-width="1.5"/>
<polygon points="631.90,134.10 636.55,143.40 627.25,143.40" fill="none" stroke="#505050" stroke-opacity="0.8" stroke-width="1.5"/>
<polygon points="584.40,143.35 589.05,152.65 579.75,152.65" fill="none" stroke="#505050" stroke-opacity="0.8" stroke-width="1.5"/>
<polygon points="603.50,140.65 608.15,149.95 598.85,149.95" fill="none" stroke="#505050" stroke-opacity="0.8" stroke-width="1.5"/>
<polygon points="611.25,144.05 615.90,153.35 606.60,153.35" fill="none" stroke="#505050" stroke-opacity="0.8" stroke-width="1.5"/>
<polygon points="593.00,148.35 597.65,157.65 588.35,157.65" fill="none" stroke="#505050" stroke-opacity="0.8" stroke-width="1.5"/>
<polygon points="587.00,155.95 591.65,165.25 582.35,165.25" fill="none" stroke="#505050" stroke-opacity="0.8" stroke-width="1.5"/>
<polygon points="592.00,153.85 596.65,163.15 587.35,163.15" fill="none" stroke="#505050" stroke-opacity="0.8" stroke-width="1.5"/>
<polygon points="598.00,156.60 602.65,165.90 593.35,165.90" fill="none" stroke="#505050" stroke-opacity="0.8" stroke-width="1.5"/>
<polygon points="606.90,166.60 611.55,175.90 602.25,175.90" fill="none" stroke="#505050" stroke-opacity="0.8" stroke-width="1.5"/>
<line x1="399.50" y1="272.46" x2="666.71" y2="6.60" stroke="#000" stroke-width="1.9" stroke-dasharray="7.0 3.025" stroke-dashoffset="2.2"/>
<circle cx="488.00" cy="74.75" r="4.5" fill="#0d0887" stroke="#000" stroke-width="1.5"/>
<circle cx="482.50" cy="90.75" r="4.5" fill="#0d0887" stroke="#000" stroke-width="1.5"/>
<circle cx="459.25" cy="136.25" r="4.5" fill="#0d0887" stroke="#000" stroke-width="1.5"/>
<circle cx="549.50" cy="97.50" r="4.5" fill="#e16462" stroke="#000" stroke-width="1.5"/>
<circle cx="562.50" cy="105.60" r="4.5" fill="#e16462" stroke="#000" stroke-width="1.5"/>
<circle cx="510.80" cy="132.70" r="4.5" fill="#e16462" stroke="#000" stroke-width="1.5"/>
<circle cx="521.50" cy="133.75" r="4.5" fill="#e16462" stroke="#000" stroke-width="1.5"/>
<circle cx="534.30" cy="143.20" r="4.5" fill="#e16462" stroke="#000" stroke-width="1.5"/>
<circle cx="525.20" cy="155.00" r="4.5" fill="#e16462" stroke="#000" stroke-width="1.5"/>
<circle cx="586.10" cy="95.50" r="4.5" fill="#f0f921" stroke="#000" stroke-width="1.5"/>
<circle cx="569.00" cy="100.60" r="4.5" fill="#f0f921" stroke="#000" stroke-width="1.5"/>
<circle cx="568.10" cy="107.75" r="4.5" fill="#f0f921" stroke="#000" stroke-width="1.5"/>
<circle cx="571.50" cy="113.60" r="4.5" fill="#f0f921" stroke="#000" stroke-width="1.5"/>
<circle cx="566.00" cy="129.40" r="4.5" fill="#f0f921" stroke="#000" stroke-width="1.5"/>
</g>
<path d="M399.50 281.75v4.4M399.5 281.75h-4.4M491.50 281.75v4.4M399.5 190.03h-4.4M583.50 281.75v4.4M399.5 98.32h-4.4M675.50 281.75v4.4M399.5 6.60h-4.4" stroke="#000" stroke-width="1" fill="none"/>
<path d="M427.19 281.75v2.5M399.5 254.14h-2.5M443.40 281.75v2.5M399.5 237.99h-2.5M454.89 281.75v2.5M399.5 226.53h-2.5M463.81 281.75v2.5M399.5 217.64h-2.5M471.09 281.75v2.5M399.5 210.38h-2.5M477.25 281.75v2.5M399.5 204.24h-2.5M482.58 281.75v2.5M399.5 198.92h-2.5M487.29 281.75v2.5M399.5 194.23h-2.5M519.19 281.75v2.5M399.5 162.42h-2.5M535.40 281.75v2.5M399.5 146.27h-2.5M546.89 281.75v2.5M399.5 134.81h-2.5M555.81 281.75v2.5M399.5 125.93h-2.5M563.09 281.75v2.5M399.5 118.66h-2.5M569.25 281.75v2.5M399.5 112.52h-2.5M574.58 281.75v2.5M399.5 107.20h-2.5M579.29 281.75v2.5M399.5 102.51h-2.5M611.19 281.75v2.5M399.5 70.71h-2.5M627.40 281.75v2.5M399.5 54.56h-2.5M638.89 281.75v2.5M399.5 43.10h-2.5M647.81 281.75v2.5M399.5 34.21h-2.5M655.09 281.75v2.5M399.5 26.95h-2.5M661.25 281.75v2.5M399.5 20.81h-2.5M666.58 281.75v2.5M399.5 15.49h-2.5M671.29 281.75v2.5M399.5 10.80h-2.5" stroke="#000" stroke-width="0.75" fill="none"/>
<rect x="399.5" y="6.6" width="276.0" height="275.15" fill="none" stroke="#000" stroke-width="1"/>
<text x="398.70" y="300.35" font-size="12.4" text-anchor="middle">10<tspan font-size="8.8" dy="-4.1">6</tspan></text>
<text x="490.70" y="300.35" font-size="12.4" text-anchor="middle">10<tspan font-size="8.8" dy="-4.1">7</tspan></text>
<text x="582.70" y="300.35" font-size="12.4" text-anchor="middle">10<tspan font-size="8.8" dy="-4.1">8</tspan></text>
<text x="674.70" y="300.35" font-size="12.4" text-anchor="middle">10<tspan font-size="8.8" dy="-4.1">9</tspan></text>
<text x="389.90" y="286.45" font-size="12.4" text-anchor="end">10<tspan font-size="8.8" dy="-4.1">−1</tspan></text>
<text x="389.90" y="194.73" font-size="12.4" text-anchor="end">10<tspan font-size="8.8" dy="-4.1">0</tspan></text>
<text x="389.90" y="103.02" font-size="12.4" text-anchor="end">10<tspan font-size="8.8" dy="-4.1">1</tspan></text>
<text x="389.90" y="11.30" font-size="12.4" text-anchor="end">10<tspan font-size="8.8" dy="-4.1">2</tspan></text>
<text x="461.40" y="322.5" font-size="15.0">OOMs<tspan font-size="10.5" dy="3.2">NO</tspan><tspan font-size="7.4" dy="3.0">3</tspan><tspan font-size="7.4" dy="-8.0" dx="-4.7">−</tspan><tspan font-size="10.5" dy="5.0" dx="4.2">CIMS</tspan><tspan dy="-3.2" dx="5.2">[cm</tspan><tspan font-size="10.5" dy="-5.6">−3</tspan><tspan dy="5.6">]</tspan></text>
<text transform="translate(13.8 144.2) rotate(-90)" font-size="15.12" text-anchor="middle">GR-GR(H<tspan font-size="10.6" dy="3.2">2</tspan><tspan dy="-3.2">SO</tspan><tspan font-size="10.6" dy="3.2">4</tspan><tspan dy="-3.2">) [nm h</tspan><tspan font-size="10.6" dy="-5.6" dx="0.3">−1</tspan><tspan dy="5.6">]</tspan></text>
<text x="68.7" y="26.4" font-size="14.7">a)</text>
<text x="407.9" y="26.4" font-size="14.7">b)</text>
<text x="68.6" y="256.6" font-size="15.05">1.5-3 nm</text>
<text x="68.6" y="272.9" font-size="15.05">R=-0.2</text>
<text transform="translate(231.7 78.5) rotate(-45)" font-size="15.05">kinetic limit</text>
<text transform="translate(586.7 77.5) rotate(-45)" font-size="15.05">kinetic limit</text>
<rect x="91.2" y="16.8" width="150.2" height="5.8" fill="url(#plasma)" stroke="#000" stroke-width="1"/>
<text x="106.25" y="38.6" font-size="9.9" text-anchor="middle">−20</text>
<text x="136.25" y="38.6" font-size="9.9" text-anchor="middle">−10</text>
<text x="166.25" y="38.6" font-size="9.9" text-anchor="middle">0</text>
<text x="196.25" y="38.6" font-size="9.9" text-anchor="middle">10</text>
<text x="226.25" y="38.6" font-size="9.9" text-anchor="middle">20</text>
<path d="M106.25 22.6v4.4M136.25 22.6v4.4M166.25 22.6v4.4M196.25 22.6v4.4M226.25 22.6v4.4" stroke="#000" stroke-width="1" fill="none"/>
<text x="112.2" y="54.6" font-size="12.55">Temperature [<tspan font-size="10.5" dx="0.8" dy="-0.8">°</tspan><tspan dy="0.8" dx="0.9">C]</tspan></text>
<rect x="405.5" y="235.8" width="195.3" height="39.5" rx="2.5" ry="2.5" fill="#fff" fill-opacity="0.8" stroke="#ccc" stroke-width="1"/>
<polygon points="423.0,239.37 429.93,246.3 423.0,253.23 416.07,246.3" fill="#666666" fill-opacity="0.6" stroke="#000" stroke-opacity="0.5" stroke-width="1.3"/>
<rect x="418.0" y="259.6" width="10.0" height="10.0" fill="#666666" fill-opacity="0.6" stroke="#000" stroke-opacity="0.5" stroke-width="1.3"/>
<polygon points="517.8,242.04999999999998 522.4499999999999,251.35 513.15,251.35" fill="#666666" fill-opacity="0.6" stroke="#000" stroke-opacity="0.5" stroke-width="1.3"/>
<circle cx="517.8" cy="264.6" r="4.5" fill="#666" stroke="#000" stroke-width="1.5"/>
<text x="445.6" y="249.9" font-size="12.3">Beijing</text>
<text x="445.6" y="268.6" font-size="12.3">Hyytiälä</text>
<text x="540.1" y="249.9" font-size="12.3">Po-Valley</text>
<text x="540.1" y="268.6" font-size="12.3">CLOUD</text>
<text x="667.3" y="257.4" font-size="15.05" text-anchor="end">3-7 nm</text>
<text x="667.3" y="273.4" font-size="15.05" text-anchor="end">R=0.4</text>
</svg>
</body></html>
